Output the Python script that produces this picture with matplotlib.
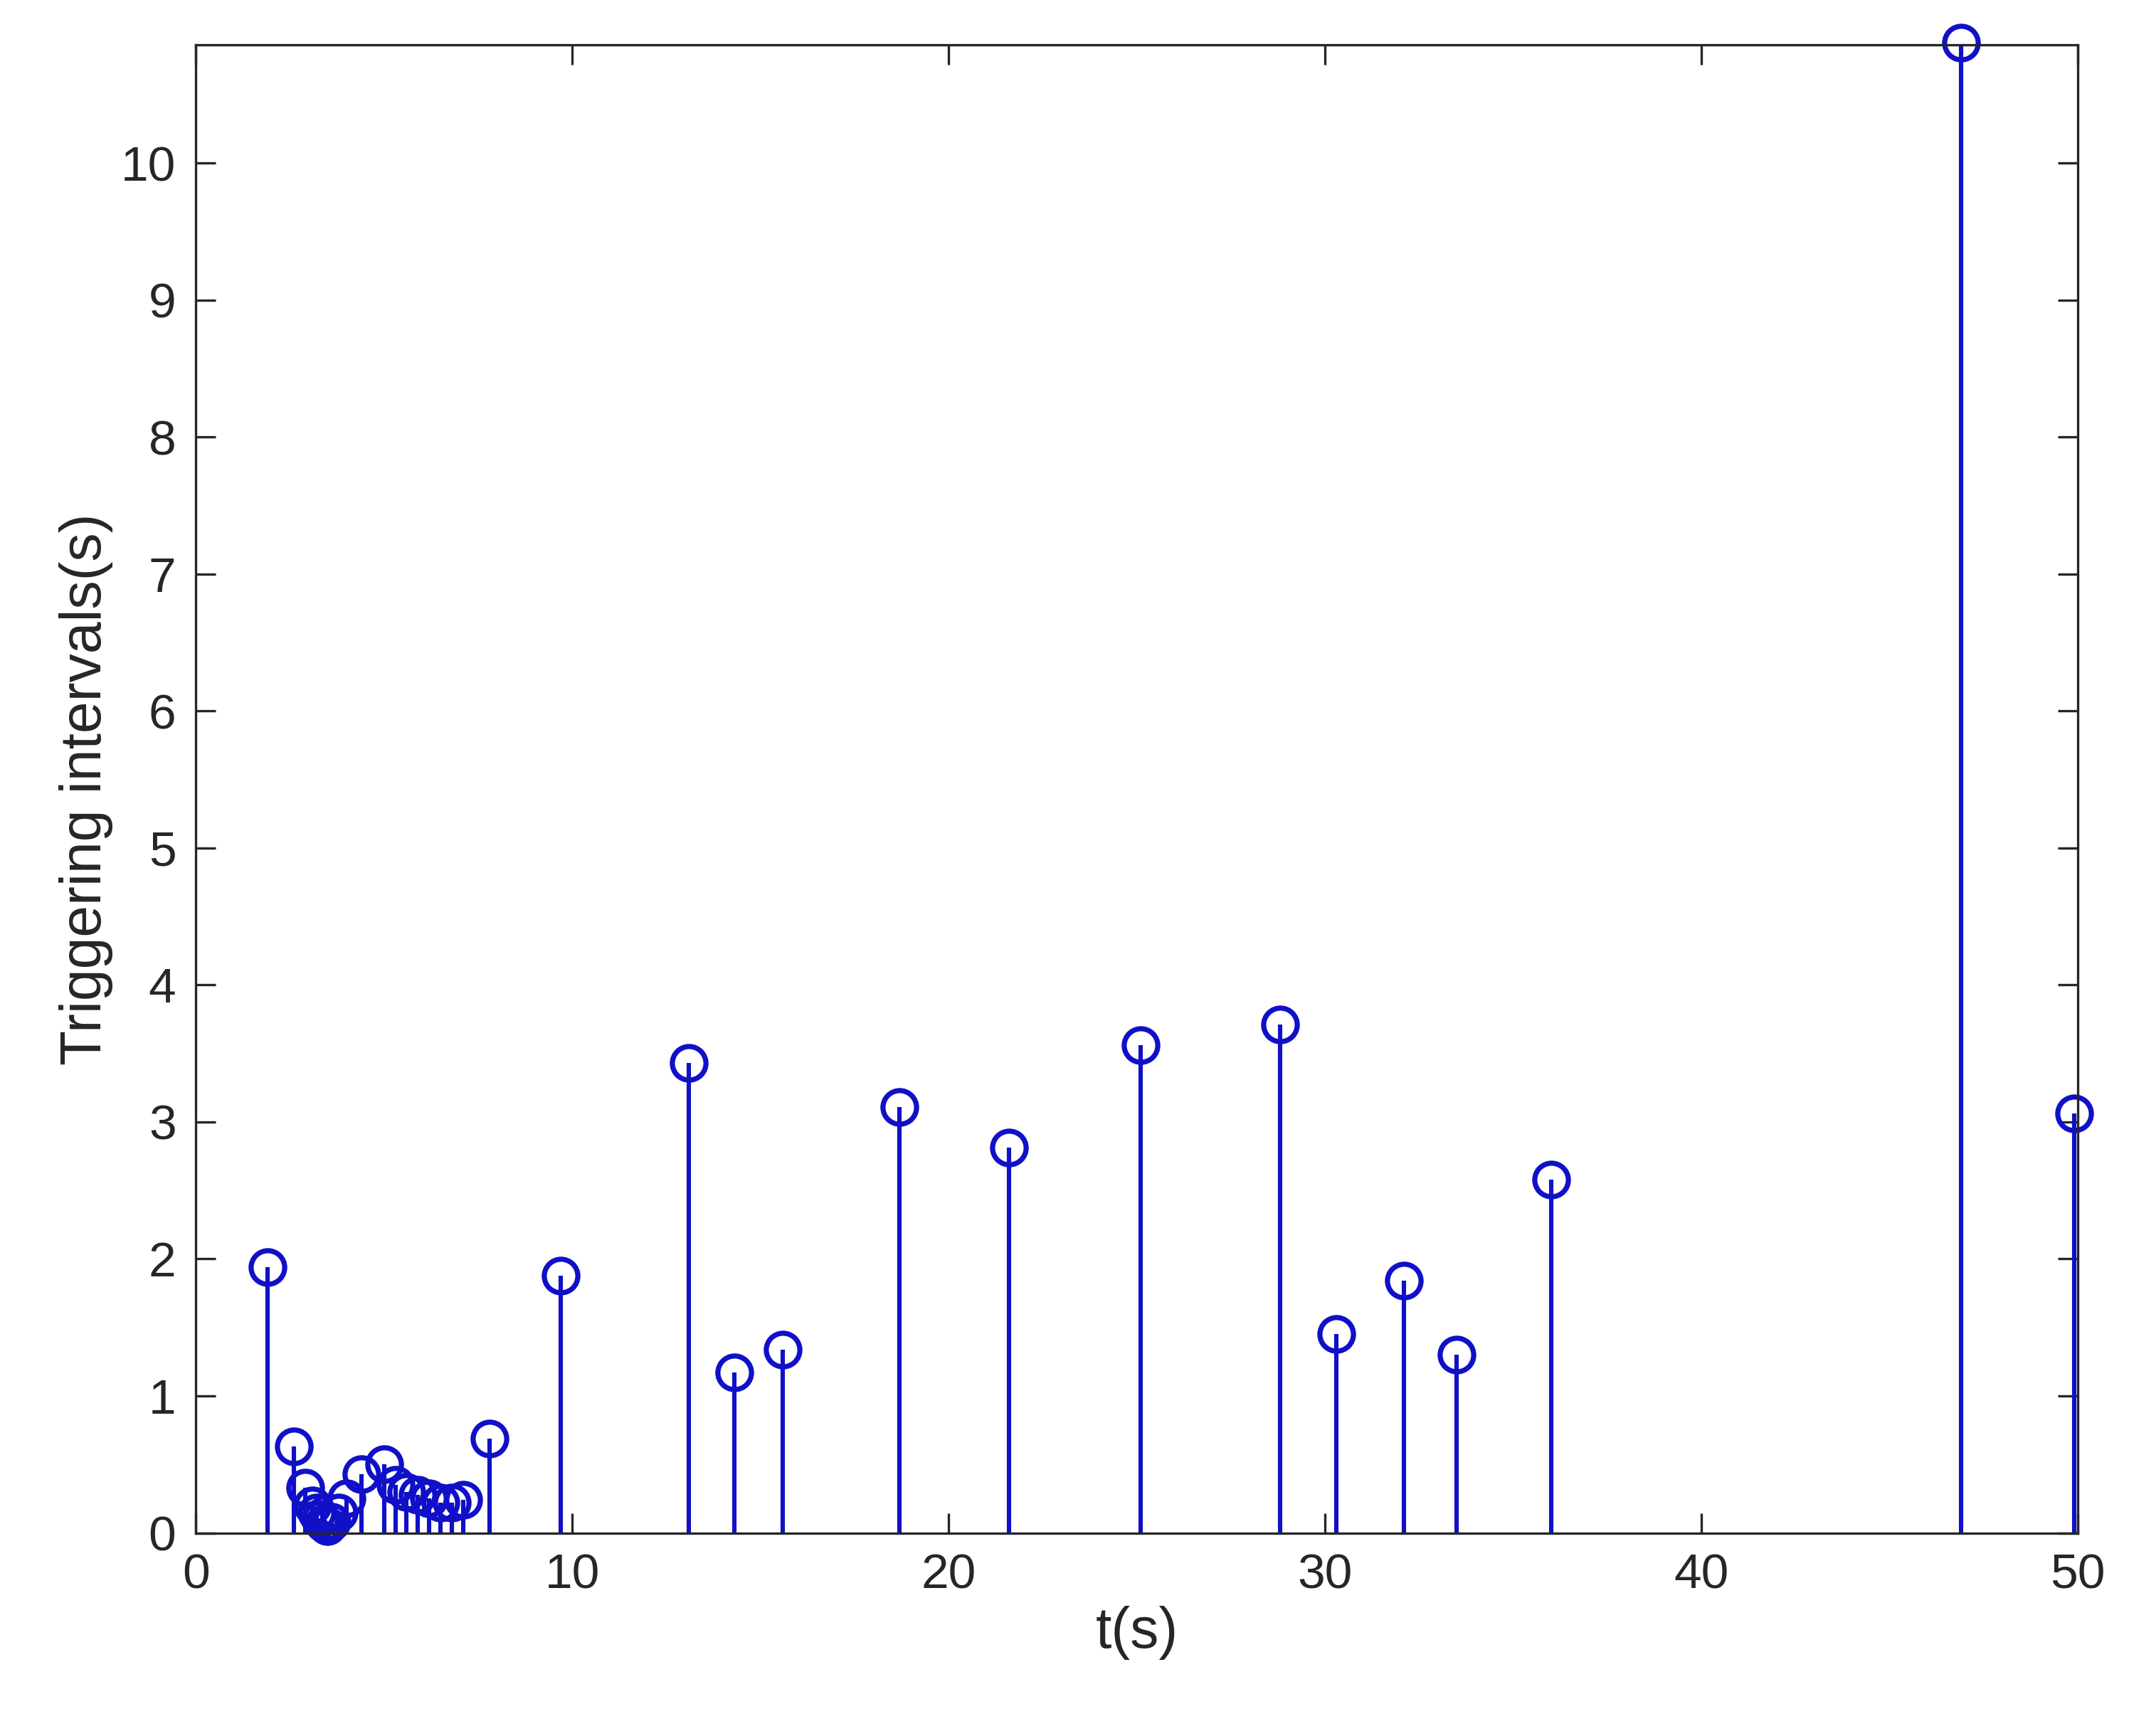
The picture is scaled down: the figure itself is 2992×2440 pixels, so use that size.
import matplotlib.pyplot as plt

plt.rcParams["font.family"] = ["Liberation Sans", "DejaVu Sans"]

t = [1.9, 2.6, 2.9, 3.1, 3.2, 3.3, 3.4, 3.5, 3.6, 3.8, 4.0, 4.4, 5.0, 5.3, 5.6,
     5.9, 6.2, 6.5, 6.8, 7.1, 7.8, 9.7, 13.1, 14.3, 15.6, 18.7, 21.6, 25.1,
     28.8, 30.3, 32.1, 33.5, 36.0, 46.9, 49.9]
intervals = [1.94, 0.63, 0.33, 0.2, 0.15, 0.1, 0.07, 0.05, 0.08, 0.15, 0.25,
             0.43, 0.5, 0.35, 0.3, 0.28, 0.25, 0.22, 0.22, 0.24, 0.69, 1.88,
             3.43, 1.17, 1.34, 3.11, 2.81, 3.56, 3.71, 1.45, 1.84, 1.30, 2.58,
             10.88, 3.06]

blue = "#1010C8"
fig = plt.figure(figsize=(14.96, 12.2), dpi=200)
ax = fig.add_axes([0.092, 0.117, 0.884, 0.857])
ml, sl, bl = ax.stem(t, intervals, basefmt=" ")
plt.setp(sl, color=blue, linewidth=2.2)
plt.setp(ml, marker="o", markersize=17, markerfacecolor="none",
         markeredgecolor=blue, markeredgewidth=2.6)
ml.set_clip_on(False)
ax.set_xlim(0, 50)
ax.set_ylim(0, 10.86)
ax.set_xticks(range(0, 51, 10))
ax.set_yticks(range(0, 11))
ax.tick_params(direction="in", top=True, right=True, labelsize=25,
               length=10, width=1.2, colors="#262626", pad=10)
for s in ax.spines.values():
    s.set_linewidth(1.2)
    s.set_color("#262626")
ax.set_xlabel("t(s)", fontsize=29, color="#262626")
ax.set_ylabel("Triggering intervals(s)", fontsize=29, color="#262626")
fig.savefig("out.png")
